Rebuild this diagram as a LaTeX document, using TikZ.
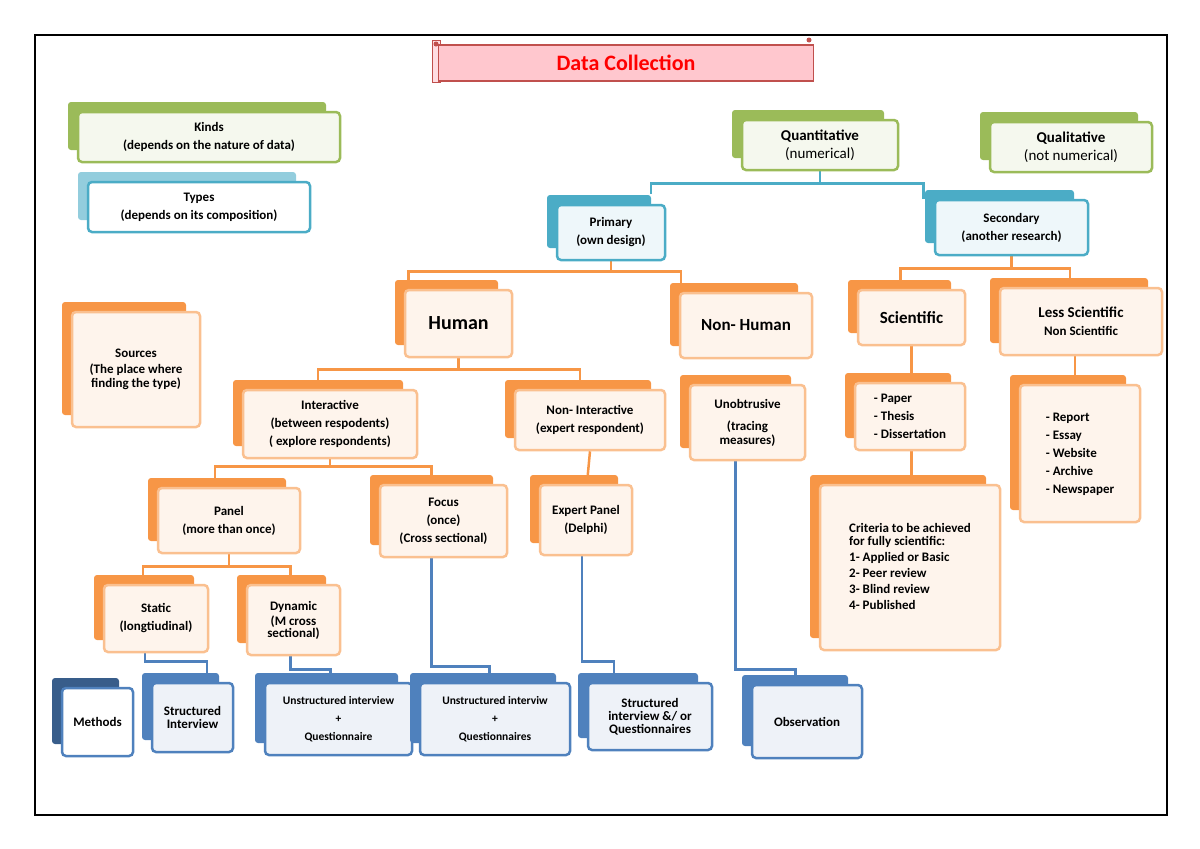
\documentclass[tikz,border=0pt]{standalone}
\usepackage{fontspec}
\setmainfont{Carlito}
\usetikzlibrary{backgrounds}
\definecolor{gB}{HTML}{9BBB59}\definecolor{gF}{HTML}{F5F8EE}
\definecolor{bB}{HTML}{4BACC6}\definecolor{bF}{HTML}{EEF7FA}\definecolor{lbB}{HTML}{93CDDD}
\definecolor{oB}{HTML}{F79646}\definecolor{oL}{HTML}{FAC090}\definecolor{oF}{HTML}{FEF4EC}
\definecolor{dB}{HTML}{4F81BD}\definecolor{dF}{HTML}{EEF2F8}\definecolor{dD}{HTML}{385D8A}
\definecolor{rB}{HTML}{C0504D}\definecolor{rF}{HTML}{FFC7CE}\definecolor{rT}{HTML}{FF0000}
\tikzset{
 fr/.style={rounded corners=4pt,line width=2.5pt,align=center,inner sep=2pt,font=\fontsize{13}{18}\selectfont\bfseries},
 green/.style={fr,draw=gB,fill=gF}, greenb/.style={fill=gB},
 blue/.style={fr,draw=bB,fill=bF}, blueb/.style={fill=bB},
 types/.style={fr,draw=bB,fill=white}, typesb/.style={fill=lbB},
 orange/.style={fr,draw=oL,fill=oF}, orangeb/.style={fill=oB},
 dblue/.style={fr,draw=dB,fill=dF}, dblueb/.style={fill=dB},
 meth/.style={fr,draw=dB,fill=white}, methb/.style={fill=dD},
 con/.style={line width=2.5pt},
 oc/.style={con,draw=oB}, bc/.style={con,draw=bB}, dc/.style={con,draw=dB}
}
\newcommand\bx[7]{%
 \fill[#6b,rounded corners=3pt] ({#2-10},{#3-10}) rectangle ({#4-14},{#5-12});
 \node[#6,minimum width={(#4-#2)*1pt},minimum height={(#5-#3)*1pt}] (#1) at ({(#2+#4)/2},{(#3+#5)/2}) {#7};}
\begin{document}
\begin{tikzpicture}[x=1pt,y=-1pt]
\useasboundingbox (0,0) rectangle (1200,849);
\draw[line width=1.2pt] (35,35) rectangle (1167,815);
% title
\fill[rF!60,draw=rB,line width=1pt] (432,40) rectangle (440,82);
\node[draw=rB,fill=rF,line width=1.2pt,minimum width=375pt,minimum height=36pt,font=\fontsize{22}{24}\selectfont\bfseries,text=rT] (title) at (626,63) {Data Collection};
\fill[rB] (436,44) circle (2.5pt) (809,40) circle (2.5pt);
\bx{kinds}{78}{112}{340}{162}{green}{Kinds\\(depends on the nature of data)}
\bx{types}{88}{182}{310}{232}{types}{Types\\(depends on its composition)}
\bx{quant}{742}{120}{898}{170}{green}{\fontsize{15}{20}\selectfont Quantitative\\\mdseries\fontsize{15}{20}\selectfont(numerical)}
\bx{qual}{990}{122}{1152}{172}{green}{\fontsize{15}{20}\selectfont Qualitative\\\mdseries\fontsize{15}{20}\selectfont(not numerical)}
\bx{prim}{557}{205}{665}{260}{blue}{Primary\\(own design)}
\bx{sec}{935}{200}{1088}{255}{blue}{Secondary\\(another research)}
\bx{hum}{405}{290}{512}{357}{orange}{\fontsize{20}{24}\selectfont Human}
\bx{nhum}{680}{293}{812}{358}{orange}{\fontsize{17}{22}\selectfont Non- Human}
\bx{sci}{858}{290}{965}{345}{orange}{\fontsize{17}{22}\selectfont Scientific}
\bx{less}{1000}{288}{1162}{355}{orange}{\fontsize{15}{26}\selectfont Less Scientific\\Non Scientific}
\bx{src}{72}{312}{200}{427}{orange}{Sources\\[-2pt](The place where\\[-4pt]finding the type)}
\bx{inter}{243}{390}{417}{458}{orange}{Interactive\\(between respodents)\\( explore respondents)}
\bx{ninter}{515}{390}{665}{450}{orange}{Non- Interactive\\(expert respondent)}
\bx{unob}{690}{385}{805}{460}{orange}{Unobtrusive\\[4pt](tracing\\[-4pt]measures)}
\bx{paper}{855}{383}{965}{450}{orange}{\begin{tabular}{@{}l@{}}- Paper\\- Thesis\\- Dissertation\end{tabular}}
\bx{report}{1020}{385}{1140}{522}{orange}{\begin{tabular}{@{}l@{}}- Report\\- Essay\\- Website\\- Archive\\- Newspaper\end{tabular}}
\bx{crit}{820}{485}{1000}{650}{orange}{\begin{tabular}{@{}l@{}}Criteria to be achieved\\[-5pt]for fully scientific:\\[-2pt]1- Applied or Basic\\[-2pt]2- Peer review\\[-2pt]3- Blind review\\[-2pt]4- Published\end{tabular}}
\bx{panel}{158}{488}{300}{553}{orange}{Panel\\(more than once)}
\bx{focus}{380}{485}{507}{557}{orange}{Focus\\(once)\\(Cross sectional)}
\bx{expert}{540}{485}{632}{555}{orange}{Expert Panel\\(Delphi)}
\bx{static}{104}{585}{208}{652}{orange}{Static\\(longtiudinal)}
\bx{dyn}{247}{585}{340}{655}{orange}{Dynamic\\[-3pt](M cross\\[-6pt]sectional)}
\bx{meth}{62}{688}{133}{756}{meth}{Methods}
\bx{si}{152}{683}{233}{752}{dblue}{Structured\\[-5pt]Interview}
\bx{uiq}{265}{683}{412}{755}{dblue}{\fontsize{11.5}{15}\selectfont Unstructured interview\\\fontsize{11.5}{15}\selectfont +\\\fontsize{11.5}{15}\selectfont Questionnaire}
\bx{uiq2}{420}{683}{570}{755}{dblue}{\fontsize{11.5}{15}\selectfont Unstructured interviw\\\fontsize{11.5}{15}\selectfont +\\\fontsize{11.5}{15}\selectfont Questionnaires}
\bx{siq}{588}{683}{712}{750}{dblue}{Structured\\[-5pt]interview \&/ or\\[-5pt]Questionnaires}
\bx{obs}{752}{685}{862}{758}{dblue}{Observation}
\begin{scope}[on background layer]
\draw[bc] (quant.south) -- ++(0,12) coordinate (qj);
\draw[bc] (prim.north) ++(40,-10) |- (qj) -| ([xshift=-88]sec.north);
\draw[oc] (prim.south) -- ++(0,10) coordinate (pj);
\draw[oc] ([xshift=-50,yshift=-10]hum.north) |- (pj) -| ([xshift=-65,yshift=-10]nhum.north);
\draw[oc] (sec.south) -- ++(0,12) coordinate (sj);
\draw[oc] ([xshift=-11,yshift=-10]sci.north) |- (sj) -| ([xshift=-11,yshift=-10]less.north);
\draw[oc] (hum.south) -- ++(0,11) coordinate (hj);
\draw[oc] ([xshift=-12,yshift=-10]inter.north) |- (hj) -| ([xshift=-10,yshift=-10]ninter.north);
\draw[oc] (inter.south) -- ++(0,7) coordinate (ij);
\draw[oc] ([xshift=-14,yshift=-10]panel.north) |- (ij) -| ([xshift=-12,yshift=-10]focus.north);
\draw[oc] (panel.south) -- ++(0,12) coordinate (plj);
\draw[oc] ([xshift=-13,yshift=-10]static.north) |- (plj) -| ([xshift=-3,yshift=-10]dyn.north);
\draw[oc] (ninter.south) -- ([yshift=-10]expert.north);
\draw[oc] (sci.south) -- ([yshift=-10]paper.north-|sci.south);
\draw[oc] (paper.south-|sci.south) -- ([yshift=-10]crit.north-|sci.south);
\draw[oc] ([xshift=-6]less.south) -- ([xshift=-6,yshift=-10]report.north-|less.south);
\draw[dc] ([xshift=-11]static.south) |- ++(62,8) coordinate (a1) -- ([yshift=-10]si.north-|a1);
\draw[dc] ([xshift=-3]dyn.south) |- ++(40,13) coordinate (a2) -- ([yshift=-10]uiq.north-|a2);
\draw[dc] ([xshift=-12]focus.south) |- ++(58,108) coordinate (a3) -- ([yshift=-10]uiq2.north-|a3);
\draw[dc] ([xshift=-4]expert.south) |- ++(32,105) coordinate (a4) -- ([yshift=-10]siq.north-|a4);
\draw[dc] ([xshift=-12]unob.south) |- ++(60,208) coordinate (a5) -- ([yshift=-10]obs.north-|a5);
\end{scope}
\end{tikzpicture}
\end{document}
